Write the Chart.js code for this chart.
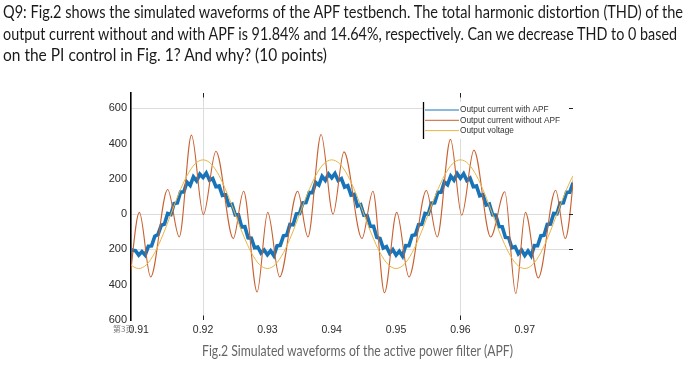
<!DOCTYPE html>
<html><head><meta charset="utf-8">
<script src="https://cdn.jsdelivr.net/npm/chart.js@4.4.1/dist/chart.umd.min.js"></script>
<style>
html,body{margin:0;padding:0;background:#fff;width:693px;height:367px;overflow:hidden;}
.fit{position:absolute;white-space:nowrap;transform-origin:0 0;line-height:1;font-family:Lato,'Noto Sans',sans-serif;}
.q{left:3px;font-size:17px;color:#1a1a1a;}
#cap{left:202px;top:342px;font-size:16px;color:#666;}
#clip{position:absolute;left:109px;top:0;width:584px;height:367px;overflow:hidden;}
#c{position:absolute;left:-109px;top:0;}
#pg{position:absolute;left:113px;top:325px;font-size:8px;color:#777;font-family:'Noto Sans CJK SC',sans-serif;line-height:1;}
</style></head>
<body>
<div id="clip"><canvas id="c" width="693" height="367"></canvas></div>
<div class="fit q" data-w="680" style="top:3px">Q9: Fig.2 shows the simulated waveforms of the APF testbench. The total harmonic distortion (THD) of the</div>
<div class="fit q" data-w="674" style="top:24.5px">output current without and with APF is 91.84% and 14.64%, respectively. Can we decrease THD to 0 based</div>
<div class="fit q" data-w="324" style="top:46px">on the PI control in Fig. 1? And why? (10 points)</div>
<div class="fit" id="cap" data-w="311">Fig.2 Simulated waveforms of the active power filter (APF)</div>
<div id="pg">第3页</div>
<script>
// ---- data ----
const seriesNames = ['Output current with APF', 'Output current without APF', 'Output voltage'];
const xTickValues = [0.91, 0.92, 0.93, 0.94, 0.95, 0.96, 0.97];
const yTickValues = [-600, -400, -200, 0, 200, 400, 600];

// Output current with APF (noisy, sampled every 0.5 ms)
const withApfTime = [
 0.9085,0.9090,0.9095,0.9100,0.9105,0.9110,0.9115,0.9120,0.9125,0.9130,
 0.9135,0.9140,0.9145,0.9150,0.9155,0.9160,0.9165,0.9170,0.9175,0.9180,
 0.9185,0.9190,0.9195,0.9200,0.9205,0.9210,0.9215,0.9220,0.9225,0.9230,
 0.9235,0.9240,0.9245,0.9250,0.9255,0.9260,0.9265,0.9270,0.9275,0.9280,
 0.9285,0.9290,0.9295,0.9300,0.9305,0.9310,0.9315,0.9320,0.9325,0.9330,
 0.9335,0.9340,0.9345,0.9350,0.9355,0.9360,0.9365,0.9370,0.9375,0.9380,
 0.9385,0.9390,0.9395,0.9400,0.9405,0.9410,0.9415,0.9420,0.9425,0.9430,
 0.9435,0.9440,0.9445,0.9450,0.9455,0.9460,0.9465,0.9470,0.9475,0.9480,
 0.9485,0.9490,0.9495,0.9500,0.9505,0.9510,0.9515,0.9520,0.9525,0.9530,
 0.9535,0.9540,0.9545,0.9550,0.9555,0.9560,0.9565,0.9570,0.9575,0.9580,
 0.9585,0.9590,0.9595,0.9600,0.9605,0.9610,0.9615,0.9620,0.9625,0.9630,
 0.9635,0.9640,0.9645,0.9650,0.9655,0.9660,0.9665,0.9670,0.9675,0.9680,
 0.9685,0.9690,0.9695,0.9700,0.9705,0.9710,0.9715,0.9720,0.9725,0.9730,
 0.9735,0.9740,0.9745,0.9750,0.9755,0.9760,0.9765,0.9770,0.9775];
const withApfValue = [
 -192,-205,-207,-232,-212,-232,-182,-180,-125,-115,
 -63,-56,4,-2,60,64,126,126,182,163,
 212,189,227,208,233,193,202,156,160,106,
 110,50,56,-4,-4,-72,-71,-134,-136,-190,
 -186,-220,-203,-230,-208,-235,-180,-177,-123,-119,
 -58,-60,2,4,64,66,122,122,180,165,
 214,191,228,206,231,191,202,154,162,108,
 112,46,54,-6,-8,-68,-69,-132,-138,-192,
 -184,-222,-201,-232,-210,-238,-178,-179,-121,-117,
 -60,-58,4,0,62,64,124,124,182,167,
 216,193,230,204,229,191,204,156,160,104,
 110,52,58,-4,-6,-70,-71,-132,-134,-190,
 -184,-224,-203,-234,-208,-236,-178,-179,-123,-119,
 -58,-56,4,2,62,64,124,124,178];

// Output current without APF (peaks and troughs)
const withoutApfTime = [
 0.9084,0.9101,0.91185,0.9145,0.9163,0.9182,0.92005,0.9220,0.9247,0.9263,
 0.9284,0.93005,0.9319,0.9347,0.9363,0.93835,0.9402,0.9419,0.9447,0.9464,
 0.9482,0.9501,0.9520,0.9547,0.9564,0.95846,0.9602,0.9621,0.9647,0.9669,
 0.9686,0.9701,0.9721,0.9748,0.9763,0.9782];
const withoutApfValue = [
 -441,10,-356,140,-129,448,-2,357,-138,130,
 -441,10,-356,130,-129,452,0,353,-138,130,
 -446,10,-356,134,-129,424,-6,363,-129,127,
 -450,10,-361,136,-138,440];

// Output voltage
const voltageTime = [
 0.9075,0.90875,0.91,0.91125,0.9125,0.91375,0.915,0.91625,0.9175,0.91875,
 0.92,0.92125,0.9225,0.92375,0.925,0.92625,0.9275,0.92875,0.93,0.93125,
 0.9325,0.93375,0.935,0.93625,0.9375,0.93875,0.94,0.94125,0.9425,0.94375,
 0.945,0.94625,0.9475,0.94875,0.95,0.95125,0.9525,0.95375,0.955,0.95625,
 0.9575,0.95875,0.96,0.96125,0.9625,0.96375,0.965,0.96625,0.9675,0.96875,
 0.97,0.97125,0.9725,0.97375,0.975,0.97625,0.9775,0.97875];
const voltageValue = [
 -218,-285,-308,-285,-218,-118,0,118,218,285,
 308,285,218,118,0,-118,-218,-285,-308,-285,
 -218,-118,0,118,218,285,308,285,218,118,
 0,-118,-218,-285,-308,-285,-218,-118,0,118,
 218,285,308,285,218,118,0,-118,-218,-285,
 -308,-285,-218,-118,0,118,218,285];

const xGridShown = [0.92, 0.96];
const yGridShown = [600, 0, -200];

const pts = (ts, vs) => ts.map((t, i) => ({x: t, y: vs[i]}));
const near = (arr, v) => arr.some(a => Math.abs(a - v) < 1e-6);

Chart.defaults.font.family = "'Liberation Sans', Arial, sans-serif";

const decor = {
  id: 'decor',
  afterDatasetsDraw(chart) {
    const {ctx, chartArea: a, scales: {x, y}} = chart;
    ctx.save();
    const lx = 423, ly = 102, lw = 146, lh = 37;
    ctx.fillStyle = '#fff';
    ctx.fillRect(lx, ly, lw, lh);
    ctx.strokeStyle = '#000'; ctx.lineWidth = 1.3;
    ctx.beginPath(); ctx.moveTo(lx + 0.5, ly); ctx.lineTo(lx + 0.5, ly + lh); ctx.stroke();
    const rows = [110, 120.3, 130.6];
    ctx.font = "8.3px 'Liberation Sans', Arial, sans-serif";
    ctx.textBaseline = 'middle';
    chart.data.datasets.forEach((ds, i) => {
      ctx.strokeStyle = ds.borderColor; ctx.lineWidth = 1;
      ctx.beginPath(); ctx.moveTo(lx + 2, rows[i]); ctx.lineTo(lx + 36, rows[i]); ctx.stroke();
      ctx.fillStyle = '#333';
      ctx.fillText(ds.label, lx + 37, rows[i]);
    });
    ctx.strokeStyle = '#222'; ctx.lineWidth = 1;
    xGridShown.forEach(v => {
      const px = Math.round(x.getPixelForValue(v)) + 0.5;
      ctx.beginPath(); ctx.moveTo(px, a.top); ctx.lineTo(px, a.top + 4.5); ctx.stroke();
      ctx.beginPath(); ctx.moveTo(px, a.bottom); ctx.lineTo(px, a.bottom - 4.5); ctx.stroke();
    });
    yGridShown.forEach(v => {
      const py = Math.round(y.getPixelForValue(v)) + 0.5;
      ctx.beginPath(); ctx.moveTo(a.right, py); ctx.lineTo(a.right - 4, py); ctx.stroke();
    });
    ctx.restore();
  }
};

new Chart(document.getElementById('c'), {
  type: 'line',
  data: {
    datasets: [
      {label: seriesNames[0], data: pts(withApfTime, withApfValue), borderColor: '#1874B8',
       borderWidth: 3.6, pointRadius: 0, tension: 0, order: 3},
      {label: seriesNames[1], data: pts(withoutApfTime, withoutApfValue), borderColor: '#C8602F',
       borderWidth: 1.1, pointRadius: 0, cubicInterpolationMode: 'monotone', order: 2},
      {label: seriesNames[2], data: pts(voltageTime, voltageValue), borderColor: '#E9B546',
       borderWidth: 1, pointRadius: 0, cubicInterpolationMode: 'monotone', order: 1}
    ]
  },
  options: {
    responsive: false,
    animation: false,
    events: [],
    layout: {padding: {left: 101, right: 120, top: 93, bottom: 27}},
    plugins: {legend: {display: false}, tooltip: {enabled: false}},
    scales: {
      x: {
        type: 'linear', min: 0.9088, max: 0.9775,
        afterBuildTicks: s => { s.ticks = xTickValues.map(v => ({value: v})); },
        afterFit: s => { s.height = 20; },
        ticks: {autoSkip: false, maxRotation: 0, padding: 4, color: '#2a2a2a',
                font: {size: 10.5}, callback: v => Number(v).toFixed(2)},
        grid: {drawTicks: false, lineWidth: 1,
               color: c => (c.tick && near(xGridShown, c.tick.value)) ? '#dcdcdc' : 'rgba(0,0,0,0)'},
        border: {display: false}
      },
      y: {
        type: 'linear', min: -600, max: 687,
        afterBuildTicks: s => { s.ticks = yTickValues.map(v => ({value: v})); },
        afterFit: s => { s.width = 30; },
        ticks: {padding: 4, color: '#2a2a2a', font: {size: 11}, callback: v => String(v)},
        grid: {drawTicks: false, lineWidth: 1,
               color: c => (c.tick && near(yGridShown, c.tick.value)) ? '#dcdcdc' : 'rgba(0,0,0,0)'},
        border: {display: true, color: '#000', width: 1.6}
      }
    }
  },
  plugins: [decor]
});

document.querySelectorAll('.fit').forEach(el => {
  const w = el.getBoundingClientRect().width;
  el.style.transform = 'scaleX(' + (parseFloat(el.dataset.w) / w) + ')';
});
</script>
</body></html>
